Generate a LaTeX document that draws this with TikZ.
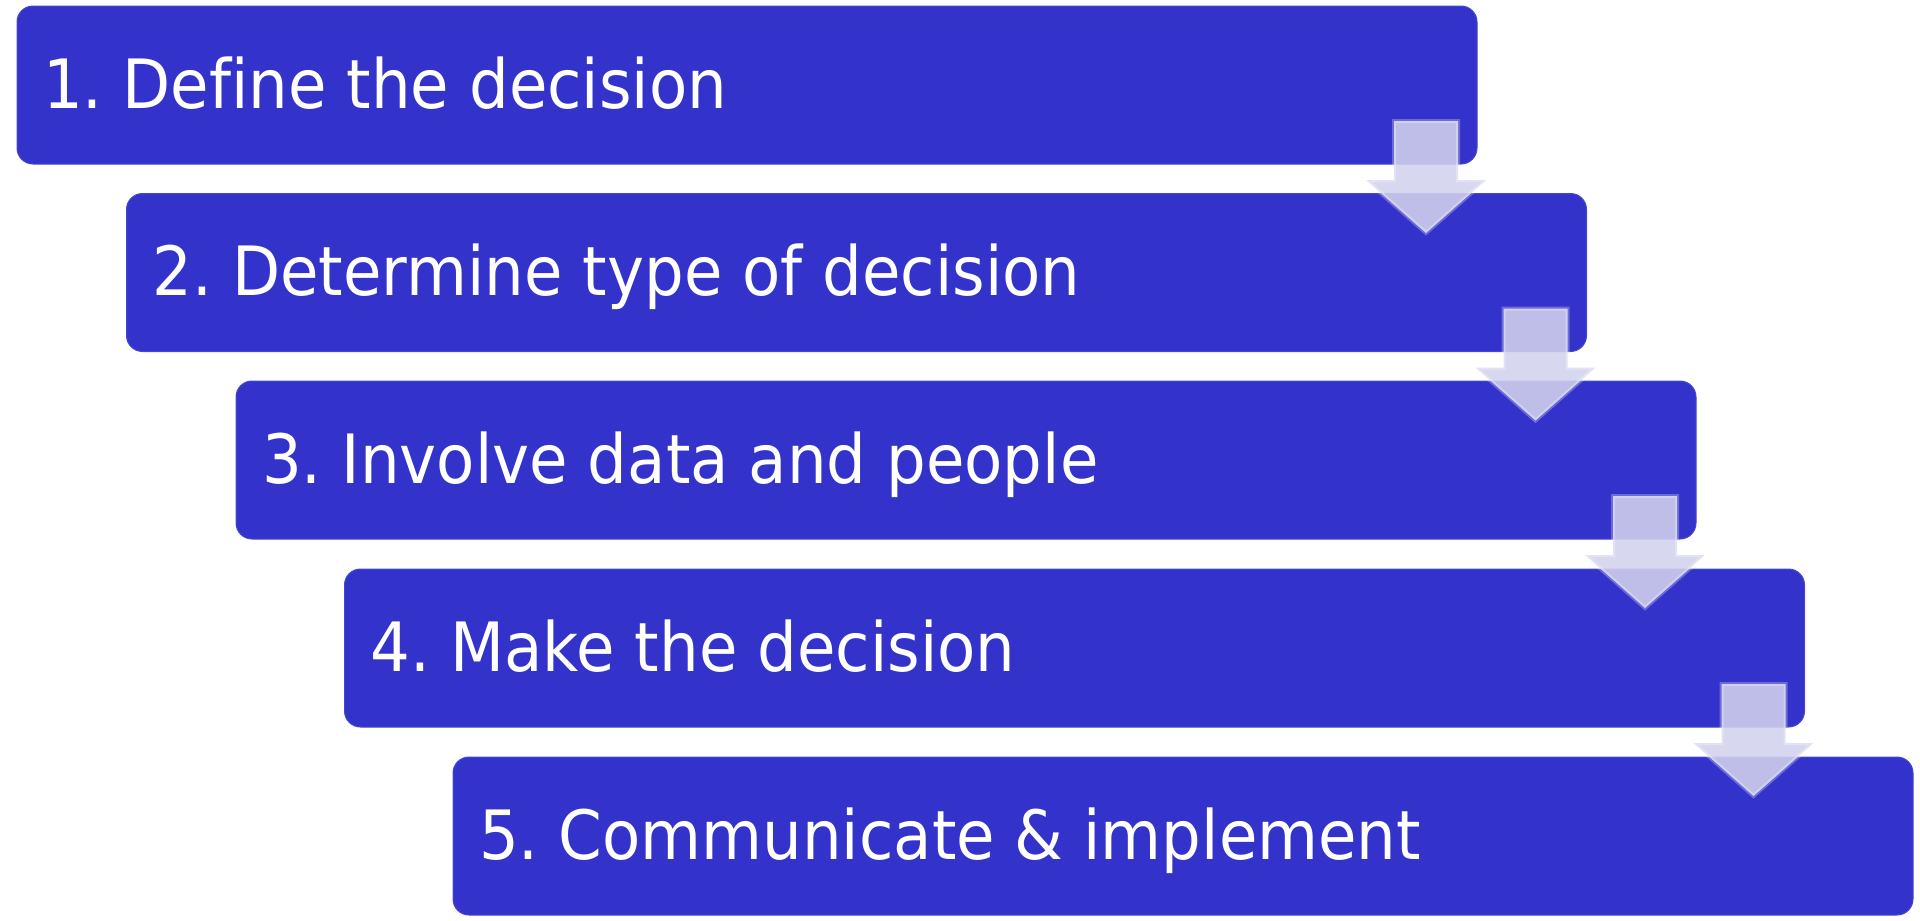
\documentclass[tikz,border=0pt]{standalone}
\usepackage{fontspec}
\newfontfamily\labfont[FakeStretch=0.92,Ligatures=NoCommon]{DejaVu Sans}
\usetikzlibrary{calc}
\definecolor{boxblue}{RGB}{51,51,204}
\definecolor{boxedge}{RGB}{70,70,212}
\definecolor{arrowfill}{RGB}{210,210,238}
\tikzset{
  stepbox/.style={rectangle, rounded corners=16pt, fill=boxblue, draw=boxedge, line width=1pt,
    minimum width=1460pt, minimum height=158pt, anchor=north west, inner sep=0pt, outer sep=0pt},
  steplabel/.style={anchor=base west, text=white, inner sep=0pt,
    font=\labfont\fontsize{68}{80}\selectfont\frenchspacing},
  blockarrow/.style={fill=arrowfill, fill opacity=0.88, draw=white, draw opacity=0.28,
    line width=4pt, line join=miter}
}
\begin{document}
\begin{tikzpicture}[x=1pt,y=-1pt]
\useasboundingbox (0,0) rectangle (1920,921);
\node[stepbox] (b1) at (17,6) {};
\node[stepbox] (b2) at (126.5,193.5) {};
\node[stepbox] (b3) at (236,381) {};
\node[stepbox] (b4) at (344.5,569) {};
\node[stepbox] (b5) at (453,757) {};
\node[steplabel] (t1) at ($(b1.north west)+(26,102)$) {1. Define the decision};
\node[steplabel] (t2) at ($(b2.north west)+(26,102)$) {2. Determine type of decision};
\node[steplabel] (t3) at ($(b3.north west)+(26,102)$) {3. Involve data and people};
\node[steplabel] (t4) at ($(b4.north west)+(26,102)$) {4. Make the decision};
\node[steplabel] (t5) at ($(b5.north west)+(26,102)$) {5. Communicate \& implement};
\foreach \i in {1,2,3,4}{
  \coordinate (a\i) at ($(b\i.south east)+(-51,0)$);
  \draw[blockarrow, shift={(a\i)}]
    (-32,-43) -- (32,-43) -- (32,16) -- (60,16) -- (0,69) -- (-60,16) -- (-32,16) -- cycle;
}
\end{tikzpicture}
\end{document}
